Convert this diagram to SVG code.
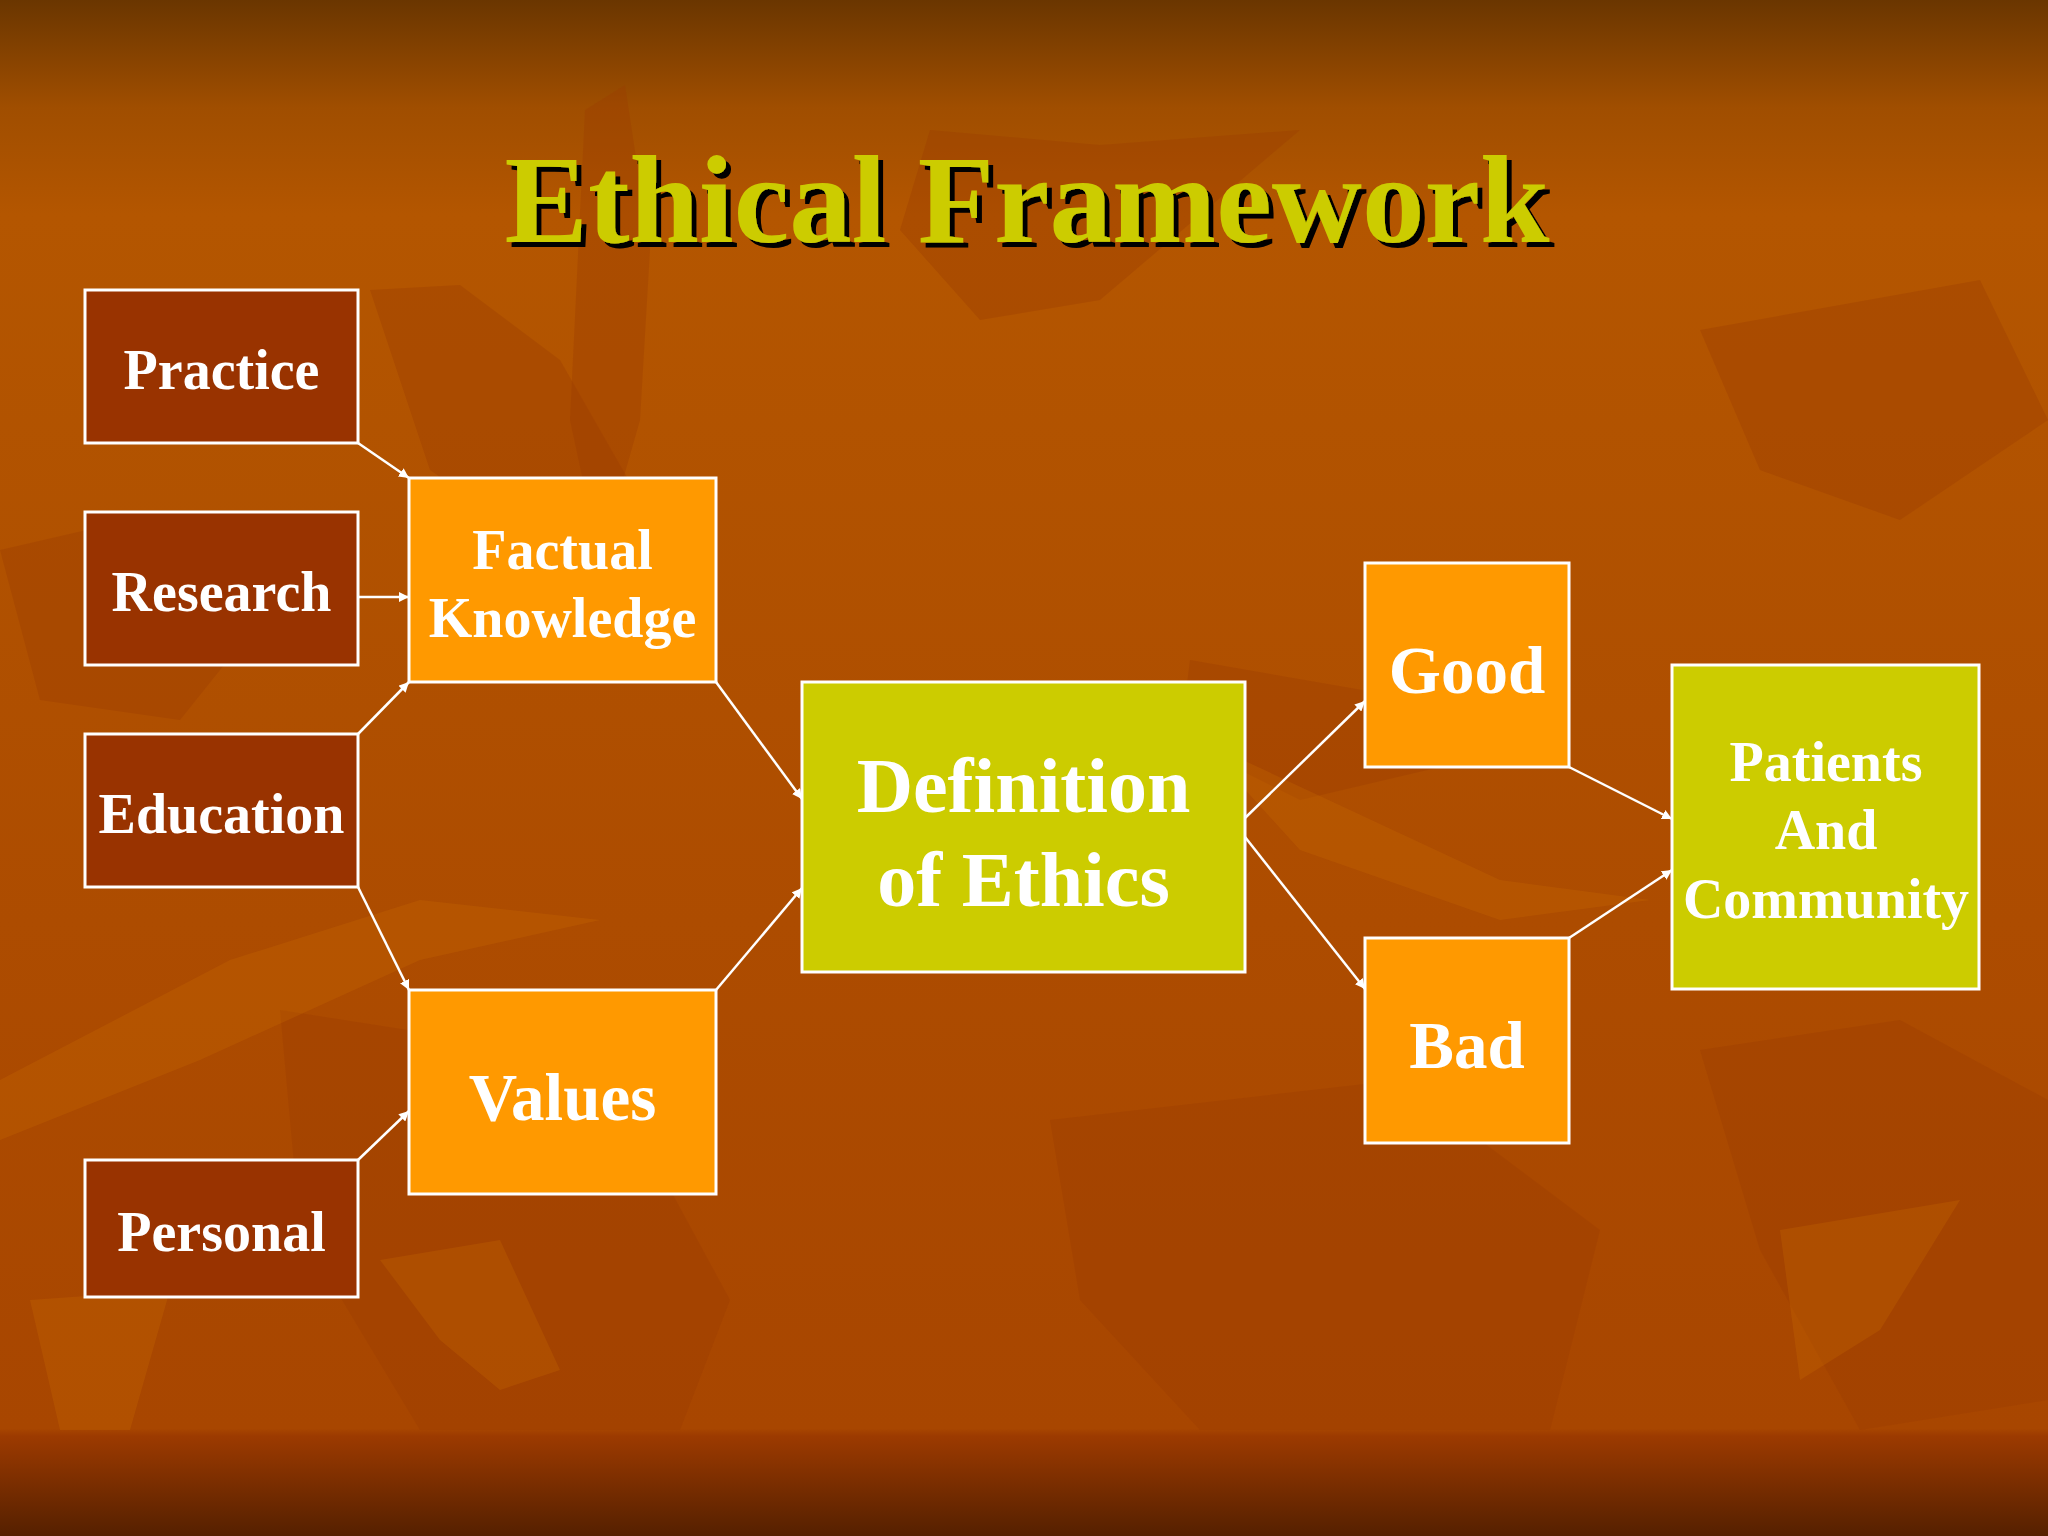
<svg xmlns="http://www.w3.org/2000/svg" width="2048" height="1536" viewBox="0 0 2048 1536">
  <defs>
    <linearGradient id="bg" x1="0" y1="0" x2="0" y2="1">
      <stop offset="0" stop-color="#6a3600"/>
      <stop offset="0.07" stop-color="#a04e00"/>
      <stop offset="0.14" stop-color="#b45600"/>
      <stop offset="0.6" stop-color="#ad4c00"/>
      <stop offset="0.93" stop-color="#a84600"/>
      <stop offset="0.935" stop-color="#9c3a00"/>
      <stop offset="1" stop-color="#552000"/>
    </linearGradient>
    <filter id="shadow" x="-5%" y="-20%" width="110%" height="140%">
      <feOffset in="SourceAlpha" dx="5" dy="5" result="off"/>
      <feFlood flood-color="#000000"/>
      <feComposite in2="off" operator="in" result="sh"/>
      <feMerge>
        <feMergeNode in="sh"/>
        <feMergeNode in="SourceGraphic"/>
      </feMerge>
    </filter>
    <marker id="arr" viewBox="0 0 10 10" refX="10" refY="5" markerWidth="4" markerHeight="4" orient="auto" markerUnits="strokeWidth">
      <path d="M0,0 L10,5 L0,10 z" fill="#ffffff"/>
    </marker>
    <style>
      .lbl { font-family: "Liberation Serif", "Times New Roman", serif; font-weight: bold; fill: #ffffff; text-anchor: middle; }
      .box { stroke: #ffffff; stroke-width: 3; }
      .dark { fill: #993300; }
      .org { fill: #ff9900; }
      .lime { fill: #cccc00; }
      .conn line { stroke: #ffffff; stroke-width: 2.5; fill: none; marker-end: url(#arr); }
      .leafD { fill: #9a3c00; opacity: 0.35; }
      .leafL { fill: #c86a00; opacity: 0.28; }
    </style>
  </defs>

  <rect x="0" y="0" width="2048" height="1536" fill="url(#bg)"/>

  <g id="background-leaves">
    <path class="leafD" d="M585,110 L625,85 L650,250 L640,420 L600,560 L570,420 Z"/>
    <path class="leafD" d="M370,290 L460,285 L560,360 L640,500 L700,620 L560,560 L430,470 Z"/>
    <path class="leafD" d="M930,130 L1100,145 L1300,130 L1100,300 L980,320 L900,230 Z"/>
    <path class="leafD" d="M1190,660 L1420,700 L1470,760 L1300,800 L1180,740 Z"/>
    <path class="leafD" d="M1700,330 L1980,280 L2048,420 L1900,520 L1760,470 Z"/>
    <path class="leafD" d="M0,550 L130,520 L260,620 L180,720 L40,700 Z"/>
    <path class="leafD" d="M280,1010 L600,1060 L730,1300 L680,1430 L420,1430 L300,1230 Z"/>
    <path class="leafD" d="M1050,1120 L1400,1080 L1600,1230 L1550,1430 L1200,1430 L1080,1300 Z"/>
    <path class="leafD" d="M1700,1050 L1900,1020 L2048,1100 L2048,1400 L1860,1430 L1760,1250 Z"/>
    <path class="leafL" d="M30,1300 L170,1290 L130,1430 L60,1430 Z"/>
    <path class="leafL" d="M380,1260 L500,1240 L560,1370 L500,1390 L440,1340 Z"/>
    <path class="leafL" d="M1780,1230 L1960,1200 L1880,1330 L1800,1380 Z"/>
    <path class="leafL" d="M0,1080 L230,960 L420,900 L600,920 L420,960 L200,1060 L0,1140 Z"/>
    <path class="leafL" d="M1200,740 L1500,880 L1650,900 L1500,920 L1300,850 Z"/>
  </g>

  <g id="title">
    <text x="1027" y="242" font-family="Liberation Serif, Times New Roman, serif" font-weight="bold" font-size="125" text-anchor="middle" fill="#cccc00" filter="url(#shadow)">Ethical Framework</text>
  </g>

  <g id="connectors" class="conn">
    <line x1="358" y1="443" x2="409" y2="478"/>
    <line x1="358" y1="597" x2="409" y2="597"/>
    <line x1="358" y1="734" x2="409" y2="682"/>
    <line x1="358" y1="887" x2="409" y2="990"/>
    <line x1="358" y1="1160" x2="409" y2="1111"/>
    <line x1="716" y1="682" x2="802" y2="799"/>
    <line x1="716" y1="990" x2="802" y2="888"/>
    <line x1="1245" y1="818" x2="1365" y2="701"/>
    <line x1="1245" y1="837" x2="1365" y2="989"/>
    <line x1="1569" y1="767" x2="1672" y2="819"/>
    <line x1="1569" y1="938" x2="1672" y2="870"/>
  </g>

  <g id="node-practice">
    <rect class="box dark" x="85" y="290" width="273" height="153"/>
    <text class="lbl" x="221.5" y="389" font-size="56">Practice</text>
  </g>
  <g id="node-research">
    <rect class="box dark" x="85" y="512" width="273" height="153"/>
    <text class="lbl" x="221.5" y="611" font-size="56">Research</text>
  </g>
  <g id="node-education">
    <rect class="box dark" x="85" y="734" width="273" height="153"/>
    <text class="lbl" x="221.5" y="833" font-size="56">Education</text>
  </g>
  <g id="node-personal">
    <rect class="box dark" x="85" y="1160" width="273" height="137"/>
    <text class="lbl" x="221.5" y="1251" font-size="56">Personal</text>
  </g>
  <g id="node-factual">
    <rect class="box org" x="409" y="478" width="307" height="204"/>
    <text class="lbl" x="562.5" y="569" font-size="56">Factual</text>
    <text class="lbl" x="562.5" y="637" font-size="56">Knowledge</text>
  </g>
  <g id="node-values">
    <rect class="box org" x="409" y="990" width="307" height="204"/>
    <text class="lbl" x="562.5" y="1120" font-size="67">Values</text>
  </g>
  <g id="node-definition">
    <rect class="box lime" x="802" y="682" width="443" height="290"/>
    <text class="lbl" x="1023.5" y="812" font-size="78">Definition</text>
    <text class="lbl" x="1023.5" y="906" font-size="78">of Ethics</text>
  </g>
  <g id="node-good">
    <rect class="box org" x="1365" y="563" width="204" height="204"/>
    <text class="lbl" x="1467" y="693" font-size="67">Good</text>
  </g>
  <g id="node-bad">
    <rect class="box org" x="1365" y="938" width="204" height="205"/>
    <text class="lbl" x="1467" y="1068" font-size="67">Bad</text>
  </g>
  <g id="node-patients">
    <rect class="box lime" x="1672" y="665" width="307" height="324"/>
    <text class="lbl" x="1826" y="781" font-size="56">Patients</text>
    <text class="lbl" x="1826" y="849" font-size="56">And</text>
    <text class="lbl" x="1826" y="918" font-size="56">Community</text>
  </g>
</svg>
